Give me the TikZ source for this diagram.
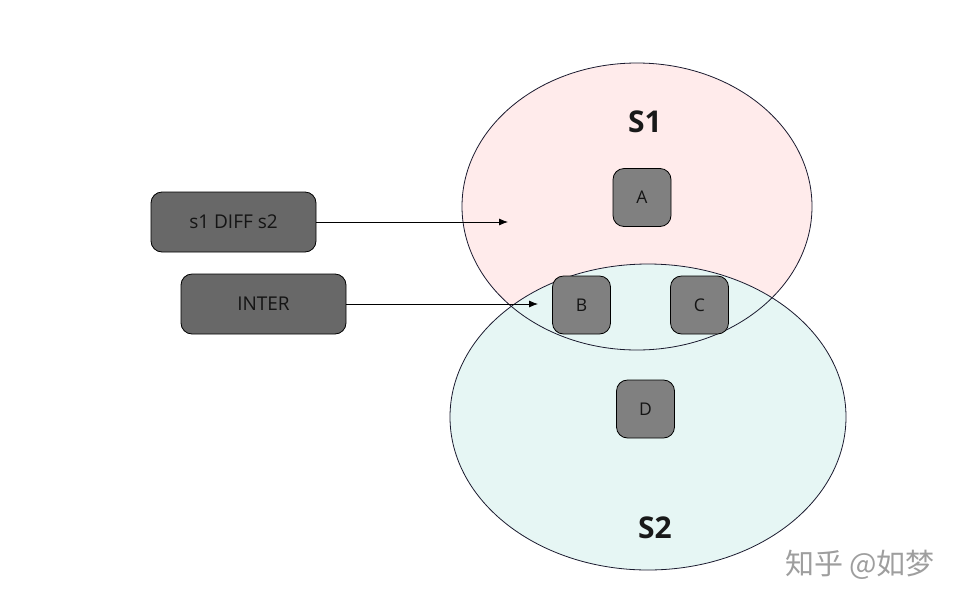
\documentclass[tikz,border=0pt]{standalone}
\usepackage{fontspec}
\setmainfont{Open Sans}
\newfontfamily\cjk{Noto Sans CJK SC}
\usetikzlibrary{arrows.meta}
\definecolor{pinkfill}{HTML}{FFEBEB}
\definecolor{cyanfill}{HTML}{E6F6F4}
\definecolor{bigbox}{HTML}{686868}
\definecolor{smallbox}{HTML}{808080}
\definecolor{edge}{HTML}{1A1A2E}
\tikzset{
  setell/.style={draw=edge, line width=0.8pt},
  bigbx/.style={draw=black, line width=0.8pt, fill=bigbox, rounded corners=11pt, minimum width=165pt, minimum height=60pt, font=\fontsize{19}{22}\selectfont, text=black!92, inner sep=0pt},
  smallbx/.style={draw=black, line width=0.8pt, fill=smallbox, rounded corners=11pt, minimum width=58pt, minimum height=58pt, font=\fontsize{17.5}{20}\selectfont, text=black!92, inner sep=0pt},
  setlbl/.style={font=\bfseries\fontsize{30}{34}\selectfont, text=black!90},
  arr/.style={draw=black, line width=0.8pt, -{Latex[length=9pt,width=7pt]}}
}
\begin{document}
\begin{tikzpicture}[x=1pt,y=-1pt]
\useasboundingbox (0,0) rectangle (961,603);
% fills
\fill[pinkfill] (637,206.5) ellipse [x radius=175, y radius=143.5];
\fill[cyanfill] (648,417) ellipse [x radius=198, y radius=153];
% outlines
\draw[setell] (637,206.5) ellipse [x radius=175, y radius=143.5];
\draw[setell] (648,417) ellipse [x radius=198, y radius=153];
% labels
\node[setlbl] (s1) at (645,122) {S1};
\node[setlbl] (s2) at (655,528) {S2};
% elements
\node[smallbx] (a) at (642,197.5) {A};
\node[smallbx] (b) at (581.5,305) {B};
\node[smallbx] (c) at (699.5,305) {C};
\node[smallbx] (d) at (645.5,409) {D};
% operation boxes
\node[bigbx] (diff) at (233.5,222) {s1 DIFF s2};
\node[bigbx] (inter) at (263.5,304) {INTER};
\coordinate (t1) at (508,222);
\coordinate (t2) at (538,304);
\draw[arr] (diff.east) -- (t1);
\draw[arr] (inter.east) -- (t2);
% watermark
\node[font=\cjk\fontsize{29}{32}\selectfont, text=black!38] (wm) at (860,565) {知乎 @如梦};
\end{tikzpicture}
\end{document}
